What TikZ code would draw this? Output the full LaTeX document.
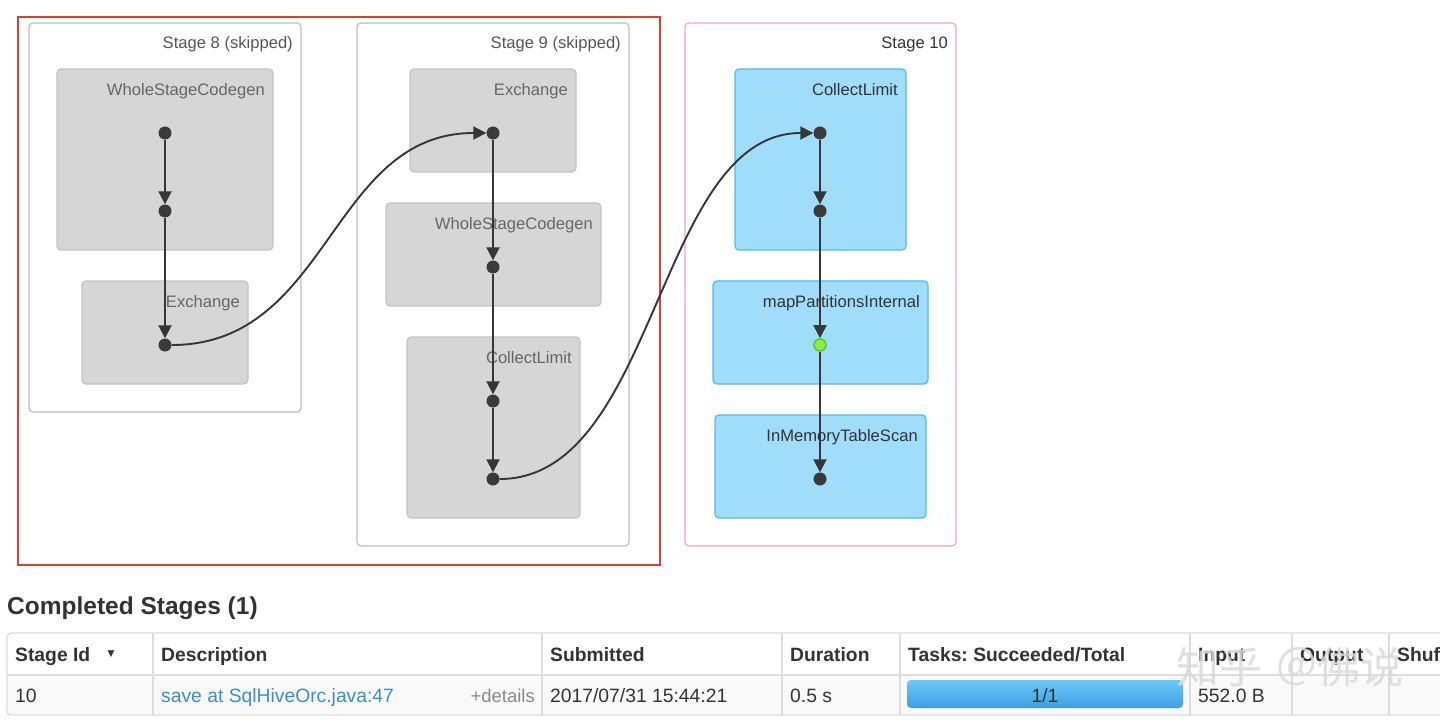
\documentclass[tikz,border=0pt]{standalone}
\usepackage{fontspec}
\setmainfont{Liberation Sans}
\newfontfamily\cjkfont{Noto Sans CJK SC}
\newfontfamily\symfont{DejaVu Sans}
\usetikzlibrary{arrows.meta,calc}
\frenchspacing
\definecolor{redframe}{HTML}{DC3D3D}
\definecolor{stageborder}{HTML}{BDBDBD}
\definecolor{pinkborder}{HTML}{F0A8B8}
\definecolor{grayfill}{HTML}{D6D6D6}
\definecolor{grayline}{HTML}{C4C4C4}
\definecolor{bluefill}{HTML}{A0DDFA}
\definecolor{blueline}{HTML}{4FBDE6}
\definecolor{dotc}{HTML}{3A3A3A}
\definecolor{edgec}{HTML}{363636}
\definecolor{greenfill}{HTML}{8CEE44}
\definecolor{greenline}{HTML}{5ACC28}
\definecolor{linkc}{HTML}{3A8FC6}
\definecolor{tableline}{HTML}{DDDDDD}
\definecolor{rowfill}{HTML}{F9F9F9}
\definecolor{textc}{HTML}{333333}
\definecolor{graytext}{HTML}{666666}
\definecolor{stagetext}{HTML}{555555}
\definecolor{detailc}{HTML}{8A8A8A}
\definecolor{bartop}{HTML}{6CC8F8}
\definecolor{barbot}{HTML}{3C9FE2}
\definecolor{wmark}{HTML}{DADADA}
\tikzset{
  box/.style={draw, rounded corners=4pt, line width=1.2pt, inner sep=0pt, outer sep=0pt},
  stagebox/.style={box, draw=stageborder, fill=white},
  pinkbox/.style={box, draw=pinkborder, fill=white},
  gbox/.style={box, draw=grayline, fill=grayfill},
  bbox/.style={box, draw=blueline, fill=bluefill},
  opdot/.style={circle, fill=dotc, inner sep=0pt, minimum size=13pt},
  greendot/.style={circle, fill=greenfill, draw=greenline, line width=1.6pt, inner sep=0pt, minimum size=12pt},
  edge/.style={draw=edgec, line width=1.9pt, -{Triangle[width=13pt,length=13pt]}},
  lbl/.style={font=\fontsize{16.6}{20}\selectfont, anchor=base east, inner sep=0pt},
  glbl/.style={lbl, text=graytext},
  blbl/.style={lbl, text=textc},
  slbl/.style={lbl, text=stagetext},
  thead/.style={font=\bfseries\fontsize{19.3}{23}\selectfont, text=textc, anchor=base west, inner sep=0pt},
  tcell/.style={font=\fontsize{19.3}{23}\selectfont, text=textc, anchor=base west, inner sep=0pt},
  wm/.style={font=\cjkfont\fontsize{43}{50}\selectfont, text=wmark, opacity=0.85, inner sep=0pt}
}
\begin{document}
\begin{tikzpicture}[x=1pt,y=-1pt]
\useasboundingbox (0,0) rectangle (1440,727);
\fill[white] (0,0) rectangle (1440,727);
\clip (0,0) rectangle (1440,727);

% red selection frame
\node[draw=redframe, line width=2.5pt, minimum width=642pt, minimum height=548pt, inner sep=0pt] (frame) at (339,291) {};

% stage clusters
\node[stagebox, minimum width=272pt, minimum height=389pt] (s8) at (165,217.5) {};
\node[stagebox, minimum width=272pt, minimum height=523pt] (s9) at (493,284.5) {};
\node[pinkbox, minimum width=271pt, minimum height=523pt] (s10) at (820.5,284.5) {};
\node[slbl] (s8l) at ($(s8.north east)+(-8,26)$) {Stage 8 (skipped)};
\node[slbl] (s9l) at ($(s9.north east)+(-8,26)$) {Stage 9 (skipped)};
\node[blbl] (s10l) at ($(s10.north east)+(-8,26)$) {Stage 10};

% operator boxes
\node[gbox, minimum width=216pt, minimum height=181pt] (wsc8) at (165,159.5) {};
\node[gbox, minimum width=166pt, minimum height=103pt] (ex8) at (165,332.5) {};
\node[gbox, minimum width=166pt, minimum height=103pt] (ex9) at (493,120.5) {};
\node[gbox, minimum width=215pt, minimum height=103pt] (wsc9) at (493.5,254.5) {};
\node[gbox, minimum width=173pt, minimum height=181pt] (cl9) at (493.5,427.5) {};
\node[bbox, minimum width=171pt, minimum height=181pt] (cl10) at (820.5,159.5) {};
\node[bbox, minimum width=215pt, minimum height=103pt] (mp10) at (820.5,332.5) {};
\node[bbox, minimum width=211pt, minimum height=103pt] (im10) at (820.5,466.5) {};

\node[glbl] (wsc8l) at ($(wsc8.north east)+(-8,26.5)$) {WholeStageCodegen};
\node[glbl] (ex8l) at ($(ex8.north east)+(-8,26.5)$) {Exchange};
\node[glbl] (ex9l) at ($(ex9.north east)+(-8,26.5)$) {Exchange};
\node[glbl] (wsc9l) at ($(wsc9.north east)+(-8,26.5)$) {WholeStageCodegen};
\node[glbl] (cl9l) at ($(cl9.north east)+(-8,26.5)$) {CollectLimit};
\node[blbl] (cl10l) at ($(cl10.north east)+(-8,26.5)$) {CollectLimit};
\node[blbl] (mp10l) at ($(mp10.north east)+(-8,26.5)$) {mapPartitionsInternal};
\node[blbl] (im10l) at ($(im10.north east)+(-8,26.5)$) {InMemoryTableScan};

% operator dots
\node[opdot] (a1) at (165,133) {};
\node[opdot] (a2) at (165,211) {};
\node[opdot] (a3) at (165,345) {};
\node[opdot] (b1) at (493,133) {};
\node[opdot] (b2) at (493,267) {};
\node[opdot] (b3) at (493,401) {};
\node[opdot] (b4) at (493,479) {};
\node[opdot] (c1) at (820,133) {};
\node[opdot] (c2) at (820,211) {};
\node[greendot] (c3) at (820,345) {};
\node[opdot] (c4) at (820,479) {};

% edges
\draw[edge] (a1) -- (a2);
\draw[edge] (a2) -- (a3);
\draw[edge] (a3) .. controls (330,345) and (330,133) .. (b1);
\draw[edge] (b1) -- (b2);
\draw[edge] (b2) -- (b3);
\draw[edge] (b3) -- (b4);
\draw[edge] (b4) .. controls (657,479) and (657,133) .. (c1);
\draw[edge] (c1) -- (c2);
\draw[edge] (c2) -- (c3);
\draw[edge] (c3) -- (c4);

% ---------- table ----------
\node[font=\bfseries\fontsize{24.5}{28}\selectfont, text=textc, anchor=base west, inner sep=0pt] (title) at (7,614) {Completed Stages (1)};

\fill[rowfill] (7,675) rectangle (1445,715);
\draw[tableline, line width=1.3pt, rounded corners=4pt] (1445,633) -- (7,633) -- (7,715) -- (1445,715);
\draw[tableline, line width=1.3pt] (7,675) -- (1445,675);
\foreach \cx in {153,542,782,900,1190,1292,1389}
  \draw[tableline, line width=1.3pt] (\cx,633) -- (\cx,715);

\node[thead] (h1) at (15,661) {Stage Id};
\node[font=\symfont\fontsize{9}{10}\selectfont, text=textc, inner sep=0pt] (hsort) at (111,654) {▼};
\node[thead] (h2) at (161,661) {Description};
\node[thead] (h3) at (550,661) {Submitted};
\node[thead] (h4) at (790,661) {Duration};
\node[thead] (h5) at (908,661) {Tasks: Succeeded/Total};
\node[thead] (h6) at (1198,661) {Input};
\node[thead] (h7) at (1300,661) {Output};
\node[thead] (h8) at (1397,661) {Shuf};

\node[tcell] (d1) at (15,702) {10};
\node[tcell, text=linkc] (d2) at (161,702) {save at SqlHiveOrc.java:47};
\node[tcell, font=\fontsize{18.5}{22}\selectfont, text=detailc, anchor=base east] (d2b) at (535,702) {+details};
\node[tcell] (d3) at (550,702) {2017/07/31 15:44:21};
\node[tcell] (d4) at (790,702) {0.5 s};
\shade[top color=bartop, bottom color=barbot, rounded corners=4pt] (907,680) rectangle (1183,708);
\node[tcell, anchor=base] (d5) at (1045,702) {1/1};
\node[tcell] (d6) at (1198,702) {552.0 B};

% watermark
\node[wm, anchor=west] (wm1) at (1176,667) {知乎};
\node[wm] (wm2) at (1297,667) {@};
\node[wm, anchor=east] (wm3) at (1404,667) {佛说};
\end{tikzpicture}
\end{document}
